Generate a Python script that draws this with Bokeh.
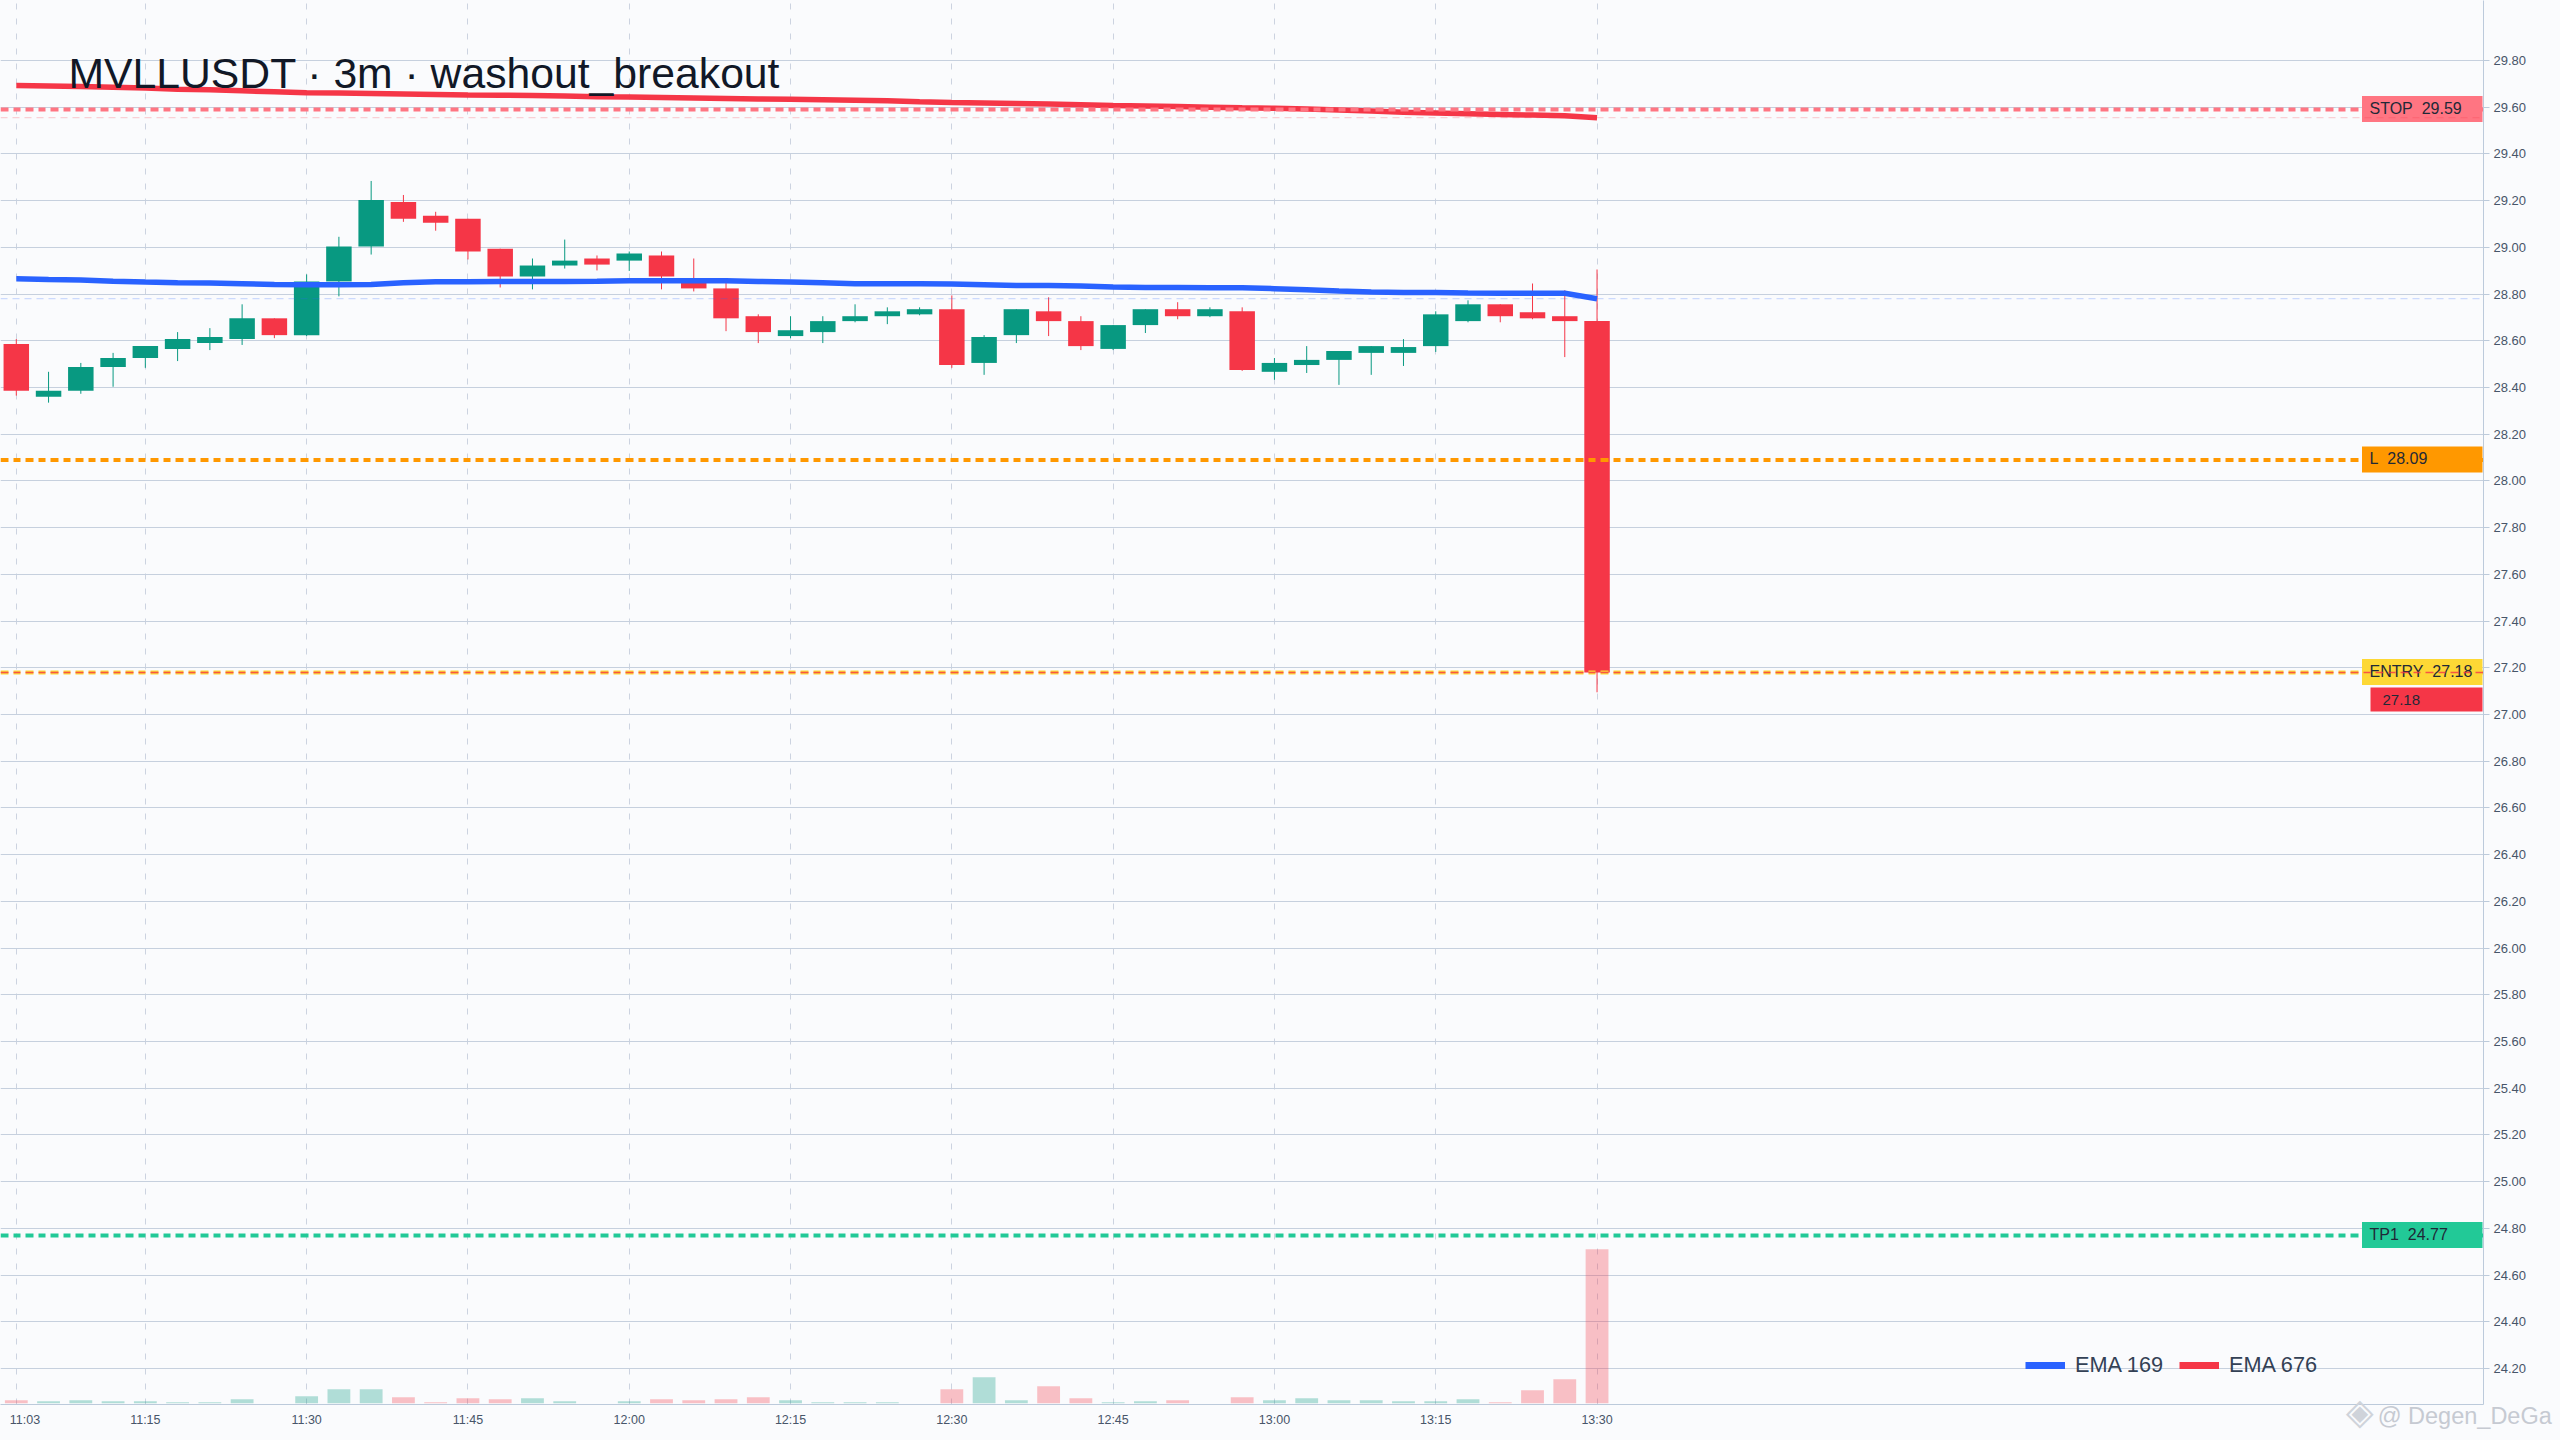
from bokeh.plotting import figure
from bokeh.layouts import column
from bokeh.models import (ColumnDataSource, FixedTicker, Range1d, Label, Legend, LegendItem, Div,
                          GlobalInlineStyleSheet)
from bokeh.embed import file_html
from bokeh.resources import INLINE

TITLE = "MVLLUSDT · 3m · washout_breakout"
WATERMARK = "@ Degen_DeGa"

opens = [28.586,28.360,28.386,28.488,28.526,28.565,28.590,28.607,28.696,28.624,
         28.854,29.003,29.194,29.135,29.122,28.994,28.875,28.922,28.952,28.943,
         28.965,28.867,28.824,28.705,28.620,28.637,28.684,28.705,28.713,28.735,
         28.505,28.624,28.726,28.684,28.565,28.667,28.735,28.705,28.726,28.467,
         28.496,28.518,28.548,28.548,28.577,28.684,28.756,28.722,28.705,28.684]
highs = [28.607,28.467,28.505,28.548,28.577,28.637,28.654,28.756,28.696,28.884,
         29.045,29.284,29.224,29.152,29.122,28.994,28.952,29.033,28.965,28.982,
         28.982,28.952,28.862,28.713,28.705,28.705,28.756,28.743,28.743,28.794,
         28.624,28.735,28.786,28.705,28.667,28.735,28.765,28.743,28.743,28.526,
         28.577,28.556,28.577,28.607,28.726,28.773,28.756,28.845,28.816,28.905]
lows = [28.365,28.335,28.373,28.403,28.484,28.513,28.560,28.582,28.611,28.620,
        28.790,28.969,29.109,29.071,28.948,28.828,28.820,28.909,28.901,28.899,
        28.820,28.811,28.641,28.590,28.611,28.590,28.679,28.671,28.709,28.484,
        28.454,28.590,28.620,28.560,28.560,28.633,28.692,28.701,28.471,28.433,
        28.462,28.411,28.454,28.492,28.552,28.679,28.679,28.692,28.530,27.095]
closes = [28.386,28.386,28.488,28.526,28.577,28.607,28.616,28.696,28.624,28.854,
          29.003,29.203,29.122,29.105,28.982,28.875,28.922,28.943,28.926,28.973,
          28.875,28.824,28.696,28.637,28.645,28.684,28.705,28.726,28.735,28.496,
          28.616,28.735,28.684,28.577,28.667,28.735,28.705,28.735,28.475,28.505,
          28.518,28.556,28.577,28.573,28.713,28.756,28.705,28.696,28.684,27.18]
volumes = [9,6,9,6,6,3,3,12,0,21,42,42,18,3,15,12,15,6,0,6,12,9,12,18,9,3,3,3,0,42,
           78,9,51,15,3,6,9,0,18,9,15,9,9,6,6,12,3,39,72,462]
ema169 = [28.865,28.862,28.860,28.855,28.851,28.848,28.847,28.844,28.841,28.840,
          28.840,28.841,28.848,28.852,28.852,28.854,28.854,28.854,28.855,28.857,
          28.857,28.857,28.857,28.854,28.851,28.848,28.844,28.844,28.844,28.843,
          28.840,28.837,28.837,28.834,28.830,28.828,28.828,28.827,28.827,28.823,
          28.818,28.813,28.809,28.807,28.806,28.804,28.803,28.803,28.803,28.780]
ema676 = [29.693,29.691,29.688,29.685,29.682,29.677,29.674,29.670,29.666,29.662,
          29.660,29.658,29.656,29.654,29.652,29.651,29.650,29.648,29.645,29.643,
          29.641,29.639,29.637,29.635,29.634,29.632,29.630,29.627,29.623,29.620,
          29.618,29.616,29.613,29.610,29.607,29.605,29.603,29.600,29.597,29.595,
          29.592,29.588,29.583,29.578,29.575,29.572,29.569,29.566,29.563,29.555]

time_idx = [0, 4, 9, 14, 19, 24, 29, 34, 39, 44, 49]
time_labels = ["11:03","11:15","11:30","11:45","12:00","12:15","12:30","12:45","13:00","13:15","13:30"]
y_ticks = [24.2,24.4,24.6,24.8,25.0,25.2,25.4,25.6,25.8,26.0,26.2,26.4,26.6,26.8,27.0,
           27.2,27.4,27.6,27.8,28.0,28.2,28.4,28.6,28.8,29.0,29.2,29.4,29.6,29.8]

level_names = ["STOP", "L", "ENTRY", "TP1"]
level_prices = [29.59, 28.09, 27.18, 24.77]
level_colors = ["#ff7582", "#ff9800", "#fdd835", "#22c997"]

GREEN, RED, BLUE = "#089981", "#f53647", "#2962ff"
BG, GRID, AXIS = "#fafbfd", "#c6d0de", "#bccadb"
TICK = "#475569"
FONT = "Liberation Sans"

# pixel <-> data geometry of the frame
FRAME_W, FRAME_H = 2483, 1404
STEP, X0 = 32.26, 15.8
PPU, Y27 = 233.6, 714.0
def xd(px): return (px - X0) / STEP
def yd(py): return 27 + (Y27 - py) / PPU

x_lo, x_hi = xd(0), xd(FRAME_W)

p = figure(width=2560, height=1440, output_backend="svg", toolbar_location=None,
           x_range=Range1d(x_lo, x_hi), y_range=Range1d(yd(FRAME_H), yd(0)),
           y_axis_location="right", tools="",
           min_border_left=0, min_border_top=0, min_border_right=2560 - FRAME_W,
           min_border_bottom=1440 - FRAME_H,
           background_fill_color=BG, border_fill_color=BG, outline_line_color=None)
p.stylesheets = [GlobalInlineStyleSheet(css="html,body{margin:0;background:%s;overflow:hidden}" % BG)]

p.extra_y_ranges = {"vol": Range1d(-3.9, FRAME_H * 3 - 3.9)}

# axes
ya = p.yaxis[0]
ya.ticker = FixedTicker(ticks=y_ticks)
ya.major_label_overrides = {t: f"{t:.2f}" for t in y_ticks}
ya.axis_line_color = AXIS
ya.major_tick_line_color = AXIS
ya.major_tick_in = 0
ya.major_tick_out = 6
ya.minor_tick_line_color = None
ya.major_label_standoff = 4
ya.major_label_text_font = FONT
ya.major_label_text_font_size = "13px"
ya.major_label_text_color = TICK

xa = p.xaxis[0]
shown = [0.27] + time_idx[1:]          # first label is pushed inside the frame
xa.ticker = FixedTicker(ticks=shown)
xa.major_label_overrides = dict(zip(shown, time_labels))
xa.axis_line_color = AXIS
xa.major_tick_line_color = None
xa.minor_tick_line_color = None
xa.major_label_standoff = 2
xa.major_label_text_font = FONT
xa.major_label_text_font_size = "12.5px"
xa.major_label_text_color = TICK

p.xgrid[0].ticker = FixedTicker(ticks=time_idx)
p.xgrid[0].grid_line_color = "#ccd3e0"
p.xgrid[0].grid_line_dash = "6 9"
p.xgrid[0].grid_line_width = 1
p.ygrid[0].ticker = FixedTicker(ticks=y_ticks)
p.ygrid[0].grid_line_color = GRID
p.ygrid[0].grid_line_width = 1

# data
idx = list(range(len(opens)))
colors = [RED if c < o else GREEN for o, c in zip(opens, closes)]
src = ColumnDataSource(dict(x=idx, o=opens, h=highs, l=lows, c=closes, v=volumes, col=colors))

p.vbar(x="x", top="v", bottom=0, width=0.707, fill_color="col", fill_alpha=0.3, line_color=None,
       source=src, y_range_name="vol")
p.segment(x0="x", x1="x", y0="l", y1="h", line_color="col", line_width=1, source=src)
p.vbar(x="x", top="o", bottom="c", width=0.79, fill_color="col", line_color=None, source=src)

r1 = p.line(idx, ema169, line_color=BLUE, line_width=5.5)
r2 = p.line(idx, ema676, line_color=RED, line_width=5.5)

# level lines, boxes, texts
for price, col in zip(level_prices, level_colors):
    p.segment(x0=[x_lo], x1=[x_hi], y0=[price], y1=[price], line_color=col, line_width=4, line_dash="8 5 7 5")

half = 13 / PPU
shift = 0.5 / PPU
p.quad(left=xd(2361.5), right=xd(2482), bottom=[v - half + shift for v in level_prices],
       top=[v + half + shift for v in level_prices], fill_color=level_colors, line_color=None)
p.text(x=[xd(2369)] * 4, y=level_prices,
       text=[f"{n}\u00a0\u00a0{v:.2f}" for n, v in zip(level_names, level_prices)],
       text_font_size="16px", text_color="#1f2937", text_baseline="middle", text_align="left",
       y_offset=-1, text_font={"value": FONT})

# last price tag
last = closes[-1]
p.quad(left=xd(2370), right=xd(2482), bottom=yd(711), top=yd(687), fill_color=RED, line_color=None)
p.text(x=[xd(2382)], y=[yd(699)], text=[f"{last:.2f}"], text_font_size="15px", text_color="#1f2937",
       text_baseline="middle", text_align="left", text_font={"value": FONT})

# thin price lines of the last values
p.segment(x0=[x_lo], x1=[x_hi], y0=[ema676[-1]], y1=[ema676[-1]], line_color=RED, line_alpha=0.22, line_width=1.3, line_dash="7 5")
p.segment(x0=[x_lo], x1=[x_hi], y0=[ema169[-1]], y1=[ema169[-1]], line_color=BLUE, line_alpha=0.22, line_width=1.3, line_dash="7 5")
p.segment(x0=[x_lo], x1=[x_hi], y0=[last], y1=[last], line_color=RED, line_alpha=0.8, line_width=1.5, line_dash="8 5 7 5")

# legend swatches (thicker than the chart lines) come from renderers parked outside the ranges
off = [x_hi + 5, x_hi + 6]
s1 = p.line(off, ema169[:2], line_color=BLUE, line_width=7)
s2 = p.line(off, ema676[:2], line_color=RED, line_width=7)
legend = Legend(items=[LegendItem(label="EMA 169", renderers=[s1]), LegendItem(label="EMA 676", renderers=[s2])],
                orientation="horizontal", location=(2025, 26), padding=0, margin=0, spacing=16,
                glyph_width=40, glyph_height=24, label_standoff=10, label_height=24,
                label_text_font=FONT, label_text_font_size="21.7px", label_text_color="#334155",
                background_fill_alpha=0, border_line_color=None)
p.add_layout(legend)

# title
p.add_layout(Label(x=xd(68), y=yd(72.5), text=TITLE, text_font=FONT, text_font_size="42.7px", text_color="#111827",
                   text_baseline="alphabetic", text_align="left", level="overlay"))

# watermark sits outside the plot frame, where annotations are clipped
mark = Div(text=f'<span style="font-family:\'DejaVu Sans\';font-size:36px;color:#cfd3da;line-height:34px;margin-right:4px">\u25c8</span>{WATERMARK}',
           width=218, height=36,
           styles={"position": "absolute", "left": "2341px", "top": "1390px", "z-index": "5",
                   "font-family": FONT, "font-size": "23.5px", "color": "#c6cad2", "white-space": "nowrap"})

open("out.html", "w").write(file_html(column(p, mark), INLINE))
